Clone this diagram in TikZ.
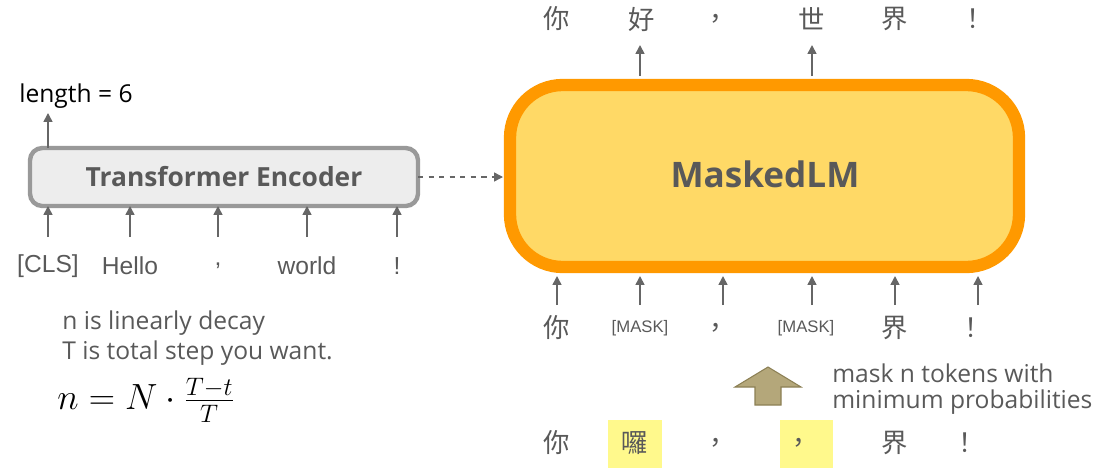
\documentclass[tikz,border=0pt]{standalone}
\usepackage{fontspec}
\setmainfont{Open Sans}
\newfontfamily\arl{Liberation Sans}
\newfontfamily\cjk{Noto Sans CJK SC}
\usetikzlibrary{arrows.meta}
\definecolor{txt}{HTML}{595959}
\definecolor{arr}{HTML}{666666}
\tikzset{
 ar/.style={-{Triangle[length=5pt,width=5pt]},arr,line width=0.9pt},
 tok/.style={font=\arl\fontsize{14}{16}\selectfont,text=txt,inner sep=0pt},
 zh/.style={font=\cjk\fontsize{15}{17}\selectfont,text=txt,inner sep=0pt},
 msk/.style={font=\arl\fontsize{9.5}{11}\selectfont,text=txt,inner sep=0pt},
 lbl/.style={font=\fontsize{14}{17}\selectfont,text=txt,inner sep=0pt,anchor=west},
}
\begin{document}
\begin{tikzpicture}[x=0.02cm,y=-0.02cm]
\useasboundingbox (0,0) rectangle (1098,470);
% encoder
\path[draw=black!40,line width=2.5pt,fill=black!7,rounded corners=7pt] (30,148) rectangle (418,206);
\node[font=\bfseries\fontsize{15}{18}\selectfont,text=txt] (enct) at (224,177) {Transformer Encoder};
\foreach \x/\n/\t in {48/cls/[CLS],130/hel/Hello,218/com/{,},307/wor/world,397/exc/!}{
  \node[tok] (\n) at (\x,266) {\t};
  \coordinate (\n a) at (\x,237);
  \coordinate (\n b) at (\x,206);
  \draw[ar] (\n a) -- (\n b);
}
\coordinate (lenb) at (48,148);
\node[font=\fontsize{14}{17}\selectfont,inner sep=0pt] (len) at (76,96) {length = 6};
\draw[ar] (lenb) -- (48,113);
% masked LM
\path[draw={rgb,255:red,255;green,153;blue,0},line width=7pt,fill={rgb,255:red,255;green,217;blue,102},rounded corners=30pt] (510,85) rectangle (1019,267);
\node[font=\bfseries\fontsize{20}{24}\selectfont,text=txt] (mlm) at (765,174) {MaskedLM};
\coordinate (encr) at (418,177);
\coordinate (mlml) at (503,177);
\draw[-{Triangle[length=5pt,width=5pt]},arr,dashed,line width=0.8pt] (encr) -- (mlml);
% top
\foreach \x/\n/\t in {557/t1/你,642/t2/好,723/t3/，,812/t4/世,895/t5/界,980/t6/！}{
  \node[zh] (\n) at (\x,19) {\t};
}
\draw[ar] (640,76) -- (640,45);
\draw[ar] (812,76) -- (812,45);
% masked row
\foreach \x/\n/\t/\s in {557/m1/你/zh,640/m2/[MASK]/msk,723/m3/，/zh,806/m4/[MASK]/msk,895/m5/界/zh,978/m6/！/zh}{
  \node[\s] (\n) at (\x,328) {\t};
}
\foreach \x in {557,640,723,812,895,978}{\draw[ar] (\x,305) -- (\x,276);}
% bottom row
\fill[yellow!45] (608,420) rectangle (662,468);
\fill[yellow!45] (780,420) rectangle (833,468);
\foreach \x/\n/\t in {557/b1/你,635/b2/囉,723/b3/，,806/b4/，,895/b5/界,972/b6/！}{
  \node[zh] (\n) at (\x,443) {\t};
}
\path[fill={rgb,255:red,180;green,167;blue,122},draw={rgb,255:red,140;green,128;blue,85},line width=0.6pt]
  (768,367) -- (801,387) -- (781,387) -- (781,405) -- (755,405) -- (755,387) -- (735,387) -- cycle;
\node[lbl] (m1t) at (832,373) {mask n tokens with};
\node[lbl] (m2t) at (832,402) {minimum probabilities};
% left text
\node[lbl] (n1) at (62,323) {n is linearly decay};
\node[lbl] (n2) at (62,353) {T is total step you want.};
\node[anchor=west,inner sep=0pt,font=\fontsize{21}{25}\selectfont] (f) at (57,400) {$n = N\cdot\frac{T-t}{T}$};
\end{tikzpicture}
\end{document}
